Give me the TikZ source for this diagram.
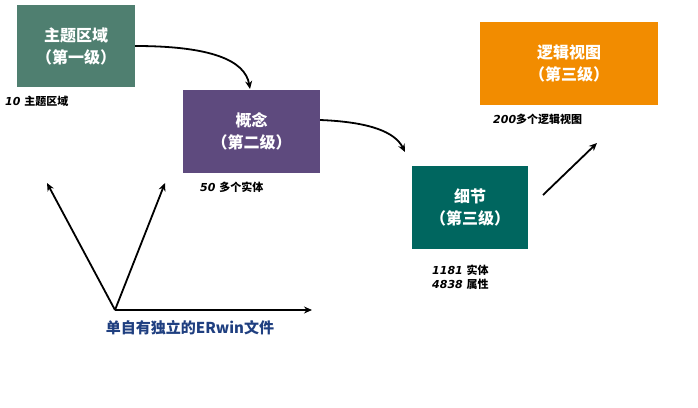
\documentclass[tikz,border=0pt]{standalone}
\usepackage{fontspec}
\setmainfont{DejaVu Sans}
\newfontfamily\cjk{Noto Sans CJK SC}
\usetikzlibrary{arrows.meta}
\definecolor{cA}{HTML}{4F7F70}
\definecolor{cB}{HTML}{5E4A7E}
\definecolor{cC}{HTML}{00665F}
\definecolor{cD}{HTML}{F28C00}
\definecolor{cT}{HTML}{1F3F80}
\begin{document}
\begin{tikzpicture}[x=1pt,y=-1pt,
 box/.style={draw=none,text=white,align=center,font=\cjk\bfseries\fontsize{16}{22}\selectfont,inner sep=0pt},
 lab/.style={anchor=west,font=\bfseries\itshape\fontsize{11}{14}\selectfont,align=left,inner sep=0pt},
 arr/.style={-{Stealth[length=8pt,width=7pt]},line width=1.8pt}]
\useasboundingbox (0,0) rectangle (698,407);
\node[box,fill=cA,minimum width=118pt,minimum height=82pt] (b1) at (76,46) {主题区域\\（第一级）};
\node[box,fill=cB,minimum width=137pt,minimum height=83pt] (b2) at (251.5,131.5) {概念\\（第二级）};
\node[box,fill=cC,minimum width=116pt,minimum height=83pt] (b3) at (470,207.5) {细节\\（第三级）};
\node[box,fill=cD,minimum width=178pt,minimum height=83pt] (b4) at (569,63.5) {逻辑视图\\（第三级）};
\node[lab] (l1) at (5,101) {10 {\cjk 主题区域}};
\node[lab] (l2) at (200,187) {50 {\cjk 多个实体}};
\node[lab] (l3) at (432,277) {1181 {\cjk 实体}\\4838 {\cjk 属性}};
\node[lab] (l4) at (493,119) {200{\cjk 多个逻辑视图}};
\node[font=\cjk\bfseries\fontsize{15}{18}\selectfont,text=cT,inner sep=0pt] (t) at (190,328) {单自有独立的ERwin文件};
\coordinate (c1) at (250,89);
\coordinate (c2) at (405,152);
\coordinate (s3) at (543,195);
\coordinate (e3) at (597,143);
\coordinate (o) at (115,310);
\coordinate (p1) at (47,183);
\coordinate (p2) at (165,183);
\coordinate (p3) at (312,310);
\draw[arr] (b1.east|-0,46) .. controls (210,46) and (245,60) .. (c1);
\draw[arr] (b2.east|-0,120) .. controls (370,122) and (395,132) .. (c2);
\draw[arr] (s3) -- (e3);
\draw[arr] (o) -- (p1);
\draw[arr] (o) -- (p2);
\draw[arr] (o) -- (p3);
\end{tikzpicture}
\end{document}
